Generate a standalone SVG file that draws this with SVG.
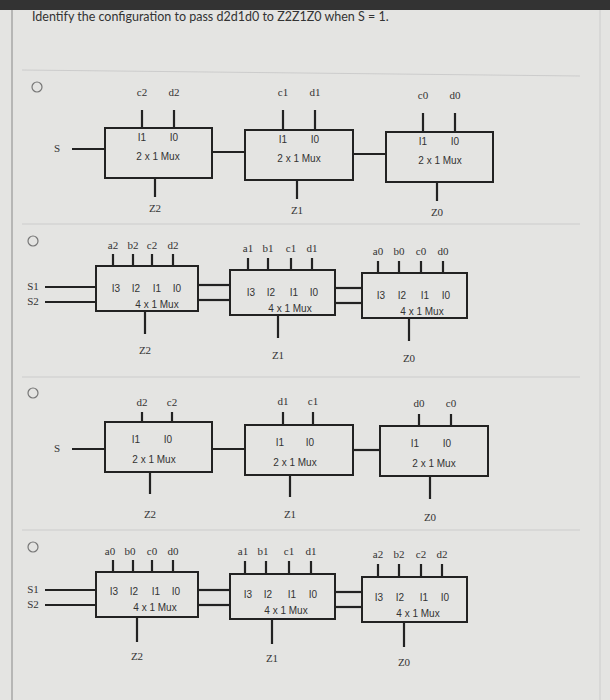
<svg xmlns="http://www.w3.org/2000/svg" width="610" height="700" viewBox="0 0 610 700">
<style>
.b{fill:none;stroke:#222;stroke-width:2}
.w{stroke:#222;stroke-width:2.2}
.t{font-family:"Liberation Serif",serif;font-size:11px;fill:#333;text-anchor:middle}
.m{font-family:"Liberation Sans",sans-serif;font-size:10px;fill:#333;text-anchor:middle}
.c{fill:none;stroke:#777;stroke-width:1.2}
.sep{stroke:#ccc;stroke-width:1}
</style>
<rect width="610" height="700" fill="#e4e4e2"/>
<rect width="610" height="10" fill="#333"/>
<line x1="12" y1="10" x2="12" y2="700" stroke="#888"/>
<line x1="600" y1="10" x2="600" y2="700" stroke="#ccc"/>
<text x="32" y="21" font-family="Lato,sans-serif" font-size="12.5" fill="#333">Identify the configuration to pass d2d1d0 to Z2Z1Z0 when S = 1.</text>
<g id="seps">
<line class="sep" x1="22" y1="70" x2="580" y2="76"/>
<line class="sep" x1="22" y1="224" x2="580" y2="224"/>
<line class="sep" x1="22" y1="377" x2="580" y2="377"/>
<line class="sep" x1="22" y1="530" x2="580" y2="530"/>
</g>
<g id="radios">
<circle class="c" cx="37" cy="87" r="5"/>
<circle class="c" cx="33" cy="241" r="5"/>
<circle class="c" cx="33" cy="393" r="5"/>
<circle class="c" cx="33" cy="547" r="5"/>
</g>
<!-- Row 1 -->
<g id="r1m1"><rect class="b" x="105" y="128" width="107" height="50"/>
<text class="t" x="142" y="96">c2</text><text class="t" x="174" y="96">d2</text>
<line class="w" x1="142" y1="110" x2="142" y2="128"/><line class="w" x1="174" y1="110" x2="174" y2="128"/>
<text class="m" x="142" y="141">I1</text><text class="m" x="174" y="141">I0</text>
<text class="m" x="158" y="160">2 x 1 Mux</text>
<line class="w" x1="155" y1="178" x2="155" y2="197"/><text class="t" x="155" y="212">Z2</text>
<text class="t" x="57" y="152">S</text></g>
<g id="r1m2"><rect class="b" x="245" y="130" width="108" height="50"/>
<text class="t" x="283" y="96">c1</text><text class="t" x="315" y="96">d1</text>
<line class="w" x1="283" y1="110" x2="283" y2="130"/><line class="w" x1="315" y1="110" x2="315" y2="130"/>
<text class="m" x="283" y="143">I1</text><text class="m" x="315" y="143">I0</text>
<text class="m" x="299" y="162">2 x 1 Mux</text>
<line class="w" x1="297" y1="180" x2="297" y2="199"/><text class="t" x="297" y="214">Z1</text></g>
<g id="r1m3"><rect class="b" x="386" y="132" width="107" height="50"/>
<text class="t" x="423" y="99">c0</text><text class="t" x="455" y="99">d0</text>
<line class="w" x1="423" y1="113" x2="423" y2="132"/><line class="w" x1="455" y1="113" x2="455" y2="132"/>
<text class="m" x="423" y="145">I1</text><text class="m" x="455" y="145">I0</text>
<text class="m" x="440" y="164">2 x 1 Mux</text>
<line class="w" x1="437" y1="182" x2="437" y2="201"/><text class="t" x="437" y="216">Z0</text></g>
<!-- Row 2 -->
<g id="r2m1"><rect class="b" x="96" y="266" width="102" height="45"/>
<text class="t" x="113" y="249">a2</text><text class="t" x="133" y="249">b2</text><text class="t" x="152" y="249">c2</text><text class="t" x="173" y="249">d2</text>
<line class="w" x1="113" y1="254" x2="113" y2="266"/><line class="w" x1="133" y1="254" x2="133" y2="266"/><line class="w" x1="152" y1="254" x2="152" y2="266"/><line class="w" x1="173" y1="254" x2="173" y2="266"/>
<text class="m" x="116" y="292">I3</text><text class="m" x="136" y="292">I2</text><text class="m" x="157" y="292">I1</text><text class="m" x="177" y="292">I0</text>
<text class="m" x="157" y="308">4 x 1 Mux</text>
<line class="w" x1="145" y1="311" x2="145" y2="334"/><text class="t" x="145" y="354">Z2</text>
<text class="t" x="33" y="290">S1</text><text class="t" x="33" y="305">S2</text></g>
<g id="r2m2"><rect class="b" x="230" y="270" width="105" height="45"/>
<text class="t" x="248" y="252">a1</text><text class="t" x="268" y="252">b1</text><text class="t" x="291" y="252">c1</text><text class="t" x="312" y="252">d1</text>
<line class="w" x1="248" y1="258" x2="248" y2="270"/><line class="w" x1="268" y1="258" x2="268" y2="270"/><line class="w" x1="291" y1="258" x2="291" y2="270"/><line class="w" x1="312" y1="258" x2="312" y2="270"/>
<text class="m" x="251" y="296">I3</text><text class="m" x="271" y="296">I2</text><text class="m" x="294" y="296">I1</text><text class="m" x="314" y="296">I0</text>
<text class="m" x="290" y="312">4 x 1 Mux</text>
<line class="w" x1="278" y1="315" x2="278" y2="338"/><text class="t" x="278" y="359">Z1</text></g>
<g id="r2m3"><rect class="b" x="362" y="273" width="105" height="45"/>
<text class="t" x="378" y="255">a0</text><text class="t" x="399" y="255">b0</text><text class="t" x="421" y="255">c0</text><text class="t" x="443" y="255">d0</text>
<line class="w" x1="378" y1="261" x2="378" y2="273"/><line class="w" x1="399" y1="261" x2="399" y2="273"/><line class="w" x1="421" y1="261" x2="421" y2="273"/><line class="w" x1="443" y1="261" x2="443" y2="273"/>
<text class="m" x="381" y="299">I3</text><text class="m" x="402" y="299">I2</text><text class="m" x="425" y="299">I1</text><text class="m" x="446" y="299">I0</text>
<text class="m" x="422" y="315">4 x 1 Mux</text>
<line class="w" x1="409" y1="318" x2="409" y2="341"/><text class="t" x="409" y="362">Z0</text></g>
<!-- Row 3 -->
<g id="r3m1"><rect class="b" x="105" y="422" width="107" height="50"/>
<text class="t" x="142" y="406">d2</text><text class="t" x="172" y="406">c2</text>
<line class="w" x1="142" y1="412" x2="142" y2="422"/><line class="w" x1="172" y1="412" x2="172" y2="422"/>
<text class="m" x="136" y="443">I1</text><text class="m" x="168" y="443">I0</text>
<text class="m" x="154" y="463">2 x 1 Mux</text>
<line class="w" x1="150" y1="472" x2="150" y2="494"/><text class="t" x="150" y="518">Z2</text>
<text class="t" x="57" y="452">S</text></g>
<g id="r3m2"><rect class="b" x="245" y="425" width="108" height="50"/>
<text class="t" x="283" y="405">d1</text><text class="t" x="313" y="405">c1</text>
<line class="w" x1="283" y1="412" x2="283" y2="425"/><line class="w" x1="313" y1="412" x2="313" y2="425"/>
<text class="m" x="280" y="446">I1</text><text class="m" x="310" y="446">I0</text>
<text class="m" x="295" y="466">2 x 1 Mux</text>
<line class="w" x1="290" y1="475" x2="290" y2="497"/><text class="t" x="290" y="518">Z1</text></g>
<g id="r3m3"><rect class="b" x="380" y="426" width="108" height="50"/>
<text class="t" x="419" y="407">d0</text><text class="t" x="451" y="407">c0</text>
<line class="w" x1="419" y1="414" x2="419" y2="426"/><line class="w" x1="451" y1="414" x2="451" y2="426"/>
<text class="m" x="415" y="447">I1</text><text class="m" x="447" y="447">I0</text>
<text class="m" x="434" y="467">2 x 1 Mux</text>
<line class="w" x1="430" y1="476" x2="430" y2="499"/><text class="t" x="430" y="521">Z0</text></g>
<!-- Row 4 -->
<g id="r4m1"><rect class="b" x="96" y="572" width="102" height="45"/>
<text class="t" x="110" y="555">a0</text><text class="t" x="130" y="555">b0</text><text class="t" x="152" y="555">c0</text><text class="t" x="173" y="555">d0</text>
<line class="w" x1="113" y1="560" x2="113" y2="572"/><line class="w" x1="133" y1="560" x2="133" y2="572"/><line class="w" x1="152" y1="560" x2="152" y2="572"/><line class="w" x1="173" y1="560" x2="173" y2="572"/>
<text class="m" x="114" y="595">I3</text><text class="m" x="134" y="595">I2</text><text class="m" x="156" y="595">I1</text><text class="m" x="176" y="595">I0</text>
<text class="m" x="155" y="611">4 x 1 Mux</text>
<line class="w" x1="137" y1="617" x2="137" y2="642"/><text class="t" x="137" y="660">Z2</text>
<text class="t" x="33" y="593">S1</text><text class="t" x="33" y="608">S2</text></g>
<g id="r4m2"><rect class="b" x="230" y="574" width="105" height="45"/>
<text class="t" x="243" y="555">a1</text><text class="t" x="263" y="555">b1</text><text class="t" x="289" y="555">c1</text><text class="t" x="311" y="555">d1</text>
<line class="w" x1="245" y1="561" x2="245" y2="574"/><line class="w" x1="266" y1="561" x2="266" y2="574"/><line class="w" x1="289" y1="561" x2="289" y2="574"/><line class="w" x1="311" y1="561" x2="311" y2="574"/>
<text class="m" x="248" y="598">I3</text><text class="m" x="268" y="598">I2</text><text class="m" x="292" y="598">I1</text><text class="m" x="313" y="598">I0</text>
<text class="m" x="286" y="614">4 x 1 Mux</text>
<line class="w" x1="272" y1="619" x2="272" y2="644"/><text class="t" x="272" y="662">Z1</text></g>
<g id="r4m3"><rect class="b" x="362" y="577" width="105" height="45"/>
<text class="t" x="378" y="558">a2</text><text class="t" x="399" y="558">b2</text><text class="t" x="421" y="558">c2</text><text class="t" x="442" y="558">d2</text>
<line class="w" x1="378" y1="564" x2="378" y2="577"/><line class="w" x1="399" y1="564" x2="399" y2="577"/><line class="w" x1="421" y1="564" x2="421" y2="577"/><line class="w" x1="442" y1="564" x2="442" y2="577"/>
<text class="m" x="379" y="601">I3</text><text class="m" x="400" y="601">I2</text><text class="m" x="424" y="601">I1</text><text class="m" x="445" y="601">I0</text>
<text class="m" x="418" y="617">4 x 1 Mux</text>
<line class="w" x1="404" y1="622" x2="404" y2="647"/><text class="t" x="404" y="666">Z0</text></g>
<g id="connectors">
<line class="w" x1="72" y1="149" x2="105" y2="149"/>
<line class="w" x1="212" y1="152" x2="245" y2="152"/>
<line class="w" x1="353" y1="154" x2="386" y2="154"/>
<line class="w" x1="45" y1="287" x2="96" y2="287"/>
<line class="w" x1="45" y1="302" x2="96" y2="302"/>
<line class="w" x1="198" y1="285" x2="230" y2="285"/>
<line class="w" x1="198" y1="300" x2="230" y2="300"/>
<line class="w" x1="335" y1="288" x2="362" y2="288"/>
<line class="w" x1="335" y1="303" x2="362" y2="303"/>
<line class="w" x1="72" y1="449" x2="105" y2="449"/>
<line class="w" x1="212" y1="449" x2="245" y2="449"/>
<line class="w" x1="353" y1="450" x2="380" y2="450"/>
<line class="w" x1="45" y1="590" x2="96" y2="590"/>
<line class="w" x1="45" y1="605" x2="96" y2="605"/>
<line class="w" x1="198" y1="590" x2="230" y2="590"/>
<line class="w" x1="198" y1="605" x2="230" y2="605"/>
<line class="w" x1="335" y1="592" x2="362" y2="592"/>
<line class="w" x1="335" y1="607" x2="362" y2="607"/>
</g>
</svg>
